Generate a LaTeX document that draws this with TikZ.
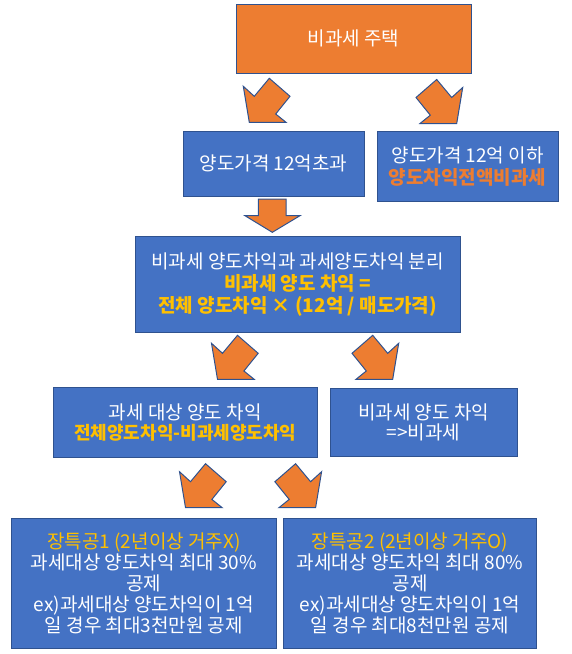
\documentclass[tikz,border=0pt]{standalone}
\usepackage{fontspec}
\setmainfont{Noto Sans CJK KR}
\definecolor{boxblue}{HTML}{4472C4}
\definecolor{edgeblue}{HTML}{2F528F}
\definecolor{boxorange}{HTML}{ED7D31}
\definecolor{txtyellow}{HTML}{FFC000}
\tikzset{
  basebox/.style={draw=edgeblue, line width=1pt, text=white, align=center, inner sep=0pt,
    font=\fontsize{19}{21}\selectfont},
  orangebox/.style={basebox, fill=boxorange},
  bluebox/.style={basebox, fill=boxblue},
  arrowfill/.style={draw=edgeblue, line width=1pt, fill=boxorange, line join=miter},
  bentarrow/.pic={\draw[arrowfill] (0,0) -- (-6,-36) -- (5,-26) -- (20,-44) -- (40.7,-26) -- (26.4,-8.3) -- (36.7,0) -- cycle;}
}
\newcommand{\ylw}[1]{{\color{txtyellow}\bfseries #1}}
\begin{document}
\begin{tikzpicture}[x=1pt, y=-1pt]
        \useasboundingbox (0,0) rectangle (571,654);

        % Boxes
        \node[orangebox, minimum width=235pt, minimum height=69pt] (house) at (353.5,38.8) {비과세 주택};
        \node[bluebox, minimum width=181pt, minimum height=65.3pt] (over) at (273.5,163.7) {양도가격 12억초과};
        \node[bluebox, minimum width=181pt, minimum height=70.3pt, font=\fontsize{19}{22}\selectfont] (under) at (467.6,166.2)
          {양도가격 12억 이하\\{\color{boxorange}\bfseries 양도차익전액비과세}};
        \node[bluebox, minimum width=324.7pt, minimum height=96pt, font=\fontsize{19}{22}\selectfont] (split) at (297.7,284.3)
          {비과세 양도차익과 과세양도차익 분리\\\ylw{비과세 양도 차익 =}\\\ylw{전체 양도차익 × (12억 / 매도가격)}};
        \node[bluebox, minimum width=263.5pt, minimum height=70pt, font=\fontsize{19}{20}\selectfont] (taxed) at (185.3,422.3)
          {과세 대상 양도 차익\\\ylw{\fontsize{18}{20}\selectfont 전체양도차익-비과세양도차익}};
        \node[bluebox, minimum width=187pt, minimum height=68pt, font=\fontsize{19}{20}\selectfont] (exempt) at (423.6,422.3)
          {비과세 양도 차익\\=>비과세};
        \node[bluebox, minimum width=265pt, minimum height=130.4pt] (ded1) at (143.9,583.5)
          {{\color{txtyellow}장특공1 (2년이상 거주X)}\\과세대상 양도차익 최대 30\%\\공제\\ex)과세대상 양도차익이 1억\\일 경우 최대3천만원 공제};
        \node[bluebox, minimum width=253.5pt, minimum height=130.4pt] (ded2) at (410,583.5)
          {{\color{txtyellow}장특공2 (2년이상 거주O)}\\과세대상 양도차익 최대 80\%\\공제\\ex)과세대상 양도차익이 1억\\일 경우 최대8천만원 공제};

        % Block arrows
        \pic at (249.3,122.3) {bentarrow};
        \pic[xscale=-1] at (456.7,123.5) {bentarrow};
        \draw[arrowfill] (258.3,199) -- (286,199) -- (286,215.7) -- (300,215.7) -- (272.3,232.3)
          -- (245,215.7) -- (258.3,215.7) -- cycle;
        \pic at (217.5,379.3) {bentarrow};
        \pic[xscale=-1] at (392.7,379.3) {bentarrow};
        \pic at (185.5,507.7) {bentarrow};
        \pic[xscale=-1] at (315.6,507.7) {bentarrow};

    \end{tikzpicture}
\end{document}
